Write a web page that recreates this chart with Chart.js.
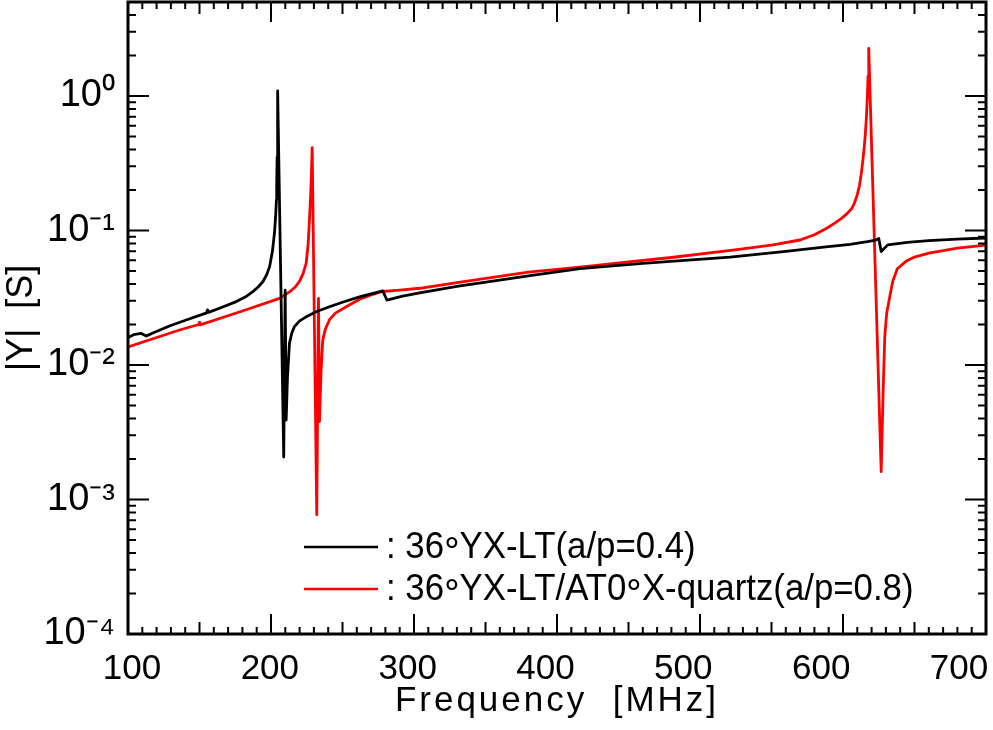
<!DOCTYPE html>
<html>
<head>
<meta charset="utf-8">
<script src="https://cdn.jsdelivr.net/npm/chart.js@4.4.1/dist/chart.umd.min.js"></script>
<style>
html,body{margin:0;padding:0;background:#fff;}
canvas{display:block;}
</style>
</head>
<body>
<canvas id="c" width="993" height="730"></canvas>
<script>
// ---- data ----
const seriesNames = ['36\u2218YX-LT(a/p=0.4)', '36\u2218YX-LT/AT0\u2218X-quartz(a/p=0.8)'];
const seriesColors = ['#000000', '#ff0000'];

const ltFreq = [100, 104, 109, 112.7, 117, 129, 140.7, 155, 155.6, 156.3, 164, 175.7, 182, 187.3, 191, 194.3, 197, 199, 201, 202.4, 203.2, 203.8, 204.0, 204.3, 204.5, 204.8,
  208.9, 209.9, 210.6, 211.5, 212.9, 214.5, 216.4, 220, 224.6, 232, 240.9, 250, 261.9, 270, 278.2, 281, 292, 304, 330, 380, 416, 460, 521, 560, 588, 605, 617, 623, 625, 626.7, 631.3, 645, 660, 680, 700];
const ltY = [0.0160, 0.0168, 0.0172, 0.0164, 0.0172, 0.0195, 0.0216, 0.0244, 0.0257, 0.0246, 0.0264, 0.0296, 0.0320, 0.0351, 0.0380, 0.0416, 0.0470, 0.0538, 0.0700, 0.0953, 0.125, 0.17, 0.22, 0.35, 0.50, 1.09,
  0.00207, 0.036, 0.0039, 0.0080, 0.0145, 0.0172, 0.0193, 0.0213, 0.0228, 0.0250, 0.0271, 0.0293, 0.0321, 0.0338, 0.0356, 0.0304, 0.0325, 0.0344, 0.0385, 0.0460, 0.0520, 0.0570, 0.0635, 0.0700, 0.0757, 0.0790, 0.0826, 0.0849, 0.0873, 0.0698, 0.0782, 0.0815, 0.0841, 0.0862, 0.088];

const lqFreq = [100, 136, 149.5, 150, 150.5, 180, 206, 213, 217, 220, 222.5, 224.6, 226, 227, 227.7, 228.3, 228.8, 232, 233.2, 233.9, 235, 236.2, 238, 240.9, 245, 252.6, 262, 270, 278, 290, 304, 330, 380, 416, 450, 480, 523, 550, 570, 580, 588, 594, 599, 603, 606, 608, 610, 611.5, 613, 614.5, 615.5, 616.3, 617, 617.5, 618,
  626.7, 628, 629.2, 630.5, 632.7, 634.8, 638, 644, 650, 660, 680, 700];
const lqY = [0.0136, 0.0182, 0.0200, 0.0208, 0.0199, 0.0252, 0.0313, 0.0350, 0.0380, 0.0420, 0.0480, 0.0572, 0.0800, 0.1267, 0.18, 0.27, 0.413, 0.00077, 0.0313, 0.0038, 0.0090, 0.0153, 0.0185, 0.0217, 0.0243, 0.0271, 0.0308, 0.0332, 0.0352, 0.0360, 0.0372, 0.0410, 0.0490, 0.0535, 0.0585, 0.0630, 0.0716, 0.0780, 0.0850, 0.0930, 0.1030, 0.1130, 0.1230, 0.1340, 0.1450, 0.1600, 0.1850, 0.2150, 0.2750, 0.38, 0.50, 0.68, 0.95, 1.40, 2.26,
  0.00161, 0.0060, 0.0162, 0.0240, 0.0322, 0.0420, 0.0520, 0.0590, 0.0635, 0.0680, 0.0740, 0.0780];

const xTickLabels = [100, 200, 300, 400, 500, 600, 700];
const yTickValues = [1e-4, 1e-3, 1e-2, 1e-1, 1];
const xRange = [100, 700];
const yRange = [1e-4, 5];

const FONT = "'Liberation Sans', Arial, Helvetica, sans-serif";
const SUP = {'0':'\u2070','1':'\u00b9','2':'\u00b2','3':'\u00b3','4':'\u2074','-':'\u207b'};
function expLabel(v){
  const e = Math.round(Math.log10(v));
  return '10' + String(e).split('').map(ch => SUP[ch]).join('');
}

const frameTicks = {
  id: 'frameTicks',
  beforeDraw(chart){
    const s = chart.scales.xl;
    if (s && !s._lsPatched){
      const orig = s.drawTitle;
      s.drawTitle = function(){
        const c = this.ctx; c.save(); c.letterSpacing = '3px'; orig.apply(this, arguments); c.restore();
      };
      s._lsPatched = true;
    }
  },
  afterDatasetsDraw(chart){
    const {ctx, chartArea: a} = chart;
    const x = chart.scales.x, y = chart.scales.y;
    ctx.save();
    ctx.strokeStyle = '#000';
    ctx.lineWidth = 2;
    ctx.beginPath();
    for (let f = xRange[0]; f <= xRange[1]; f += 10){
      const px = x.getPixelForValue(f);
      const len = (f % 100 === 0) ? 20 : (f % 50 === 0) ? 12 : 7;
      ctx.moveTo(px, a.bottom); ctx.lineTo(px, a.bottom - len);
      ctx.moveTo(px, a.top); ctx.lineTo(px, a.top + len);
    }
    for (let e = -4; e <= 0; e++){
      for (let m = 1; m <= 9; m++){
        const v = m * Math.pow(10, e);
        if (v > yRange[1] + 1e-9) break;
        const py = y.getPixelForValue(v);
        const len = (m === 1) ? 21 : 8;
        ctx.moveTo(a.left, py); ctx.lineTo(a.left + len, py);
        ctx.moveTo(a.right, py); ctx.lineTo(a.right - len, py);
      }
    }
    ctx.stroke();
    ctx.lineWidth = 3;
    ctx.strokeRect(a.left, a.top, a.right - a.left, a.bottom - a.top);
    ctx.restore();
  }
};

function drawLegendText(ctx, text, x, y){
  // draws text; ring operators are placed tightly
  const parts = text.split('\u2218');
  parts.forEach((p, i) => {
    ctx.fillText(p, x, y);
    x += ctx.measureText(p).width;
    if (i < parts.length - 1){
      const m = ctx.measureText('\u2218');
      x += 1.5;
      ctx.fillText('\u2218', x + m.actualBoundingBoxLeft, y - 4);
      x += m.actualBoundingBoxLeft + m.actualBoundingBoxRight + 2;
    }
  });
}

const insideLegend = {
  id: 'insideLegend',
  afterDatasetsDraw(chart){
    const {ctx, chartArea: a} = chart;
    ctx.save();
    const x0 = a.left + 176, x1 = a.left + 250, tx = a.left + 258;
    const rows = [a.top + 545, a.top + 587];
    chart.data.datasets.forEach((ds, i) => {
      const yy = rows[i];
      ctx.strokeStyle = ds.borderColor; ctx.lineWidth = 2.6;
      ctx.beginPath(); ctx.moveTo(x0, yy); ctx.lineTo(x1, yy); ctx.stroke();
      ctx.save();
      ctx.translate(tx, yy);
      ctx.scale(0.94, 1);
      ctx.fillStyle = '#000';
      ctx.font = '37px ' + FONT;
      ctx.textBaseline = 'middle'; ctx.textAlign = 'left';
      drawLegendText(ctx, ': ' + ds.label, 0, 1);
      ctx.restore();
    });
    ctx.restore();
  }
};

const mk = (fs, ys) => fs.map((f, i) => ({x: f, y: ys[i]}));

new Chart(document.getElementById('c'), {
  type: 'line',
  data: {
    datasets: [
      {label: seriesNames[0], data: mk(ltFreq, ltY), borderColor: seriesColors[0], borderWidth: 2.8, pointRadius: 0, tension: 0, borderJoinStyle: 'round', fill: false},
      {label: seriesNames[1], data: mk(lqFreq, lqY), borderColor: seriesColors[1], borderWidth: 2.8, pointRadius: 0, tension: 0, borderJoinStyle: 'round', fill: false}
    ]
  },
  options: {
    responsive: false,
    animation: false,
    layout: {padding: {top: 2, right: 7, left: 0, bottom: 0}},
    plugins: {legend: {display: false}, tooltip: {enabled: false}},
    scales: {
      x: {
        type: 'linear', position: 'bottom', min: xRange[0], max: xRange[1],
        grid: {display: false}, border: {display: false},
        ticks: {display: false},
        afterFit: s => { s.height = 0; s.paddingLeft = 0; s.paddingRight = 0; }
      },
      xl: {
        type: 'linear', position: 'bottom', min: 97.1, max: 719.6,
        grid: {display: false}, border: {display: false},
        afterBuildTicks: s => { s.ticks = xTickLabels.map(v => ({value: v})); },
        afterFit: s => { s.height = 96; s.paddingLeft = 0; s.paddingRight = 0; },
        ticks: {color: '#000', font: {family: FONT, size: 35}, padding: 6, maxRotation: 0, autoSkip: false},
        title: {display: true, text: 'Frequency  [MHz]', color: '#000', font: {family: FONT, size: 35}, padding: {top: 0, bottom: 8}}
      },
      y: {
        type: 'logarithmic', min: yRange[0], max: yRange[1],
        grid: {display: false}, border: {display: false},
        afterBuildTicks: s => { s.ticks = yTickValues.map(v => ({value: v, major: true})); },
        afterFit: s => { s.width = 128; s.paddingTop = 0; s.paddingBottom = 0; },
        ticks: {color: '#000', font: {family: FONT, size: 38}, padding: 5, callback: v => expLabel(v)},
        title: {display: true, text: '|Y|  [S]', color: '#000', font: {family: FONT, size: 36}, padding: {top: 0, bottom: 0}}
      }
    }
  },
  plugins: [frameTicks, insideLegend]
});
</script>
</body>
</html>
